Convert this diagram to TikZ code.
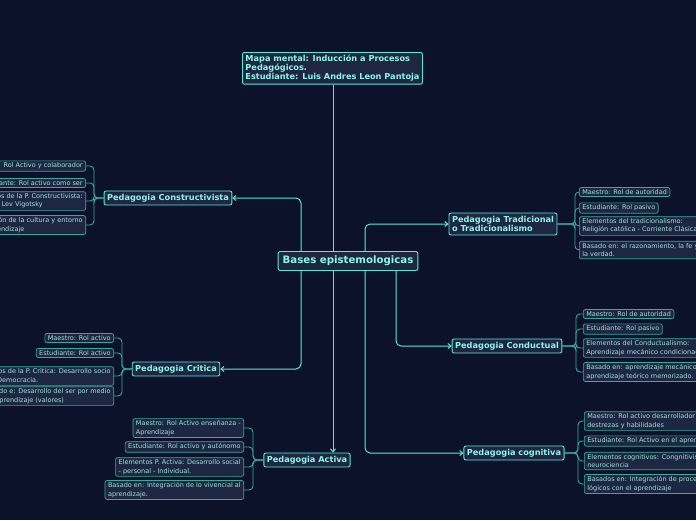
\documentclass[tikz,border=0pt]{standalone}
\usepackage{fontspec}
\setmainfont{DejaVu Sans}
\usetikzlibrary{arrows.meta}
\definecolor{bg}{HTML}{0B1229}
\definecolor{nf}{HTML}{1E2742}
\definecolor{mb}{HTML}{5EE8D8}
\definecolor{lb}{HTML}{3AA89E}
\definecolor{lt}{HTML}{9FE3DA}
\definecolor{mt}{HTML}{8FF5E8}
\tikzset{
 mainbox/.style={draw=mb,fill=nf,rounded corners=2pt,line width=0.9pt,text=mt,font=\fontsize{8.2}{9.6}\selectfont\bfseries,inner sep=3pt,align=left},
 leafbox/.style={draw=lb,fill=nf,rounded corners=2pt,line width=0.7pt,text=lt,font=\fontsize{6.5}{8.4}\selectfont,inner xsep=3pt,inner ysep=2pt,align=left},
 con/.style={draw=mb,line width=1pt,rounded corners=5pt},
 arr/.style={con,-{Straight Barb[length=3pt,width=5pt]}},
 br/.style={draw=lb,line width=0.9pt,rounded corners=4pt}
}
\begin{document}
\begin{tikzpicture}[x=1pt,y=-1pt]
\fill[bg] (0,0) rectangle (696,520);
\clip (0,0) rectangle (696,520);
\useasboundingbox (0,0) rectangle (696,520);
% main
\node[mainbox,anchor=north west,font=\fontsize{8.2}{9.2}\selectfont\bfseries,inner ysep=2.5pt] (title) at (242,52) {Mapa mental: Inducción a Procesos\\Pedagógicos.\\Estudiante: Luis Andres Leon Pantoja};
\node[mainbox,font=\fontsize{10.2}{12}\selectfont\bfseries,inner sep=4.5pt] (root) at (348,261) {Bases epistemologicas};
\node[mainbox] (cons) at (168,198) {Pedagogia Constructivista};
\node[mainbox] (crit) at (176,369) {Pedagogia Critica};
\node[mainbox] (act) at (307,460) {Pedagogia Activa};
\node[mainbox] (trad) at (503,224) {Pedagogia Tradicional\\o Tradicionalismo};
\node[mainbox] (cond) at (507,346) {Pedagogia Conductual};
\node[mainbox] (cog) at (514,453) {Pedagogia cognitiva};
% connectors
\draw[con] (title.south -| 333,0) -- (root.north -| 333,0);
\draw[arr] (root.south -| 333,0) -- (act.north -| 333,0);
\draw[arr] (root.north -| 301,0) |- (cons.east);
\draw[arr] (root.south -| 301,0) |- (crit.east);
\draw[arr] (root.north -| 365,0) |- (trad.west);
\draw[arr] (root.south -| 396,0) |- (cond.west);
\draw[arr] (root.south -| 365,0) |- (cog.west);
% leaves right
\node[leafbox,anchor=west] (t1) at (579,192) {Maestro: Rol de autoridad};
\node[leafbox,anchor=west] (t2) at (579,208) {Estudiante: Rol pasivo};
\node[leafbox,anchor=west] (t3) at (579,226) {Elementos del tradicionalismo:\\Religión católica - Corriente Clásica};
\node[leafbox,anchor=west] (t4) at (579,250) {Basado en: el razonamiento, la fe y\\la verdad.};
\node[leafbox,anchor=west] (d1) at (583,314) {Maestro: Rol de autoridad};
\node[leafbox,anchor=west] (d2) at (583,329) {Estudiante: Rol pasivo};
\node[leafbox,anchor=west] (d3) at (583,348) {Elementos del Conductualismo:\\Aprendizaje mecánico condicionado};
\node[leafbox,anchor=west] (d4) at (583,372) {Basado en: aprendizaje mecánico y\\aprendizaje teórico memorizado.};
\node[leafbox,anchor=west] (g1) at (584,421) {Maestro: Rol activo desarrollador de\\destrezas y habilidades};
\node[leafbox,anchor=west] (g2) at (584,441) {Estudiante: Rol Activo en el aprendizaje};
\node[leafbox,anchor=west] (g3) at (584,461) {Elementos cognitivos: Congnitivismo y\\neurociencia};
\node[leafbox,anchor=west] (g4) at (584,484) {Basados en: Integración de procesos\\lógicos con el aprendizaje};
% leaves left
\node[leafbox,anchor=east] (c1) at (86,166) {Maestro: Rol Activo y colaborador};
\node[leafbox,anchor=east] (c2) at (86,183) {Estudiante: Rol activo como ser};
\node[leafbox,anchor=east] (c3) at (86,201) {Elementos de la P. Constructivista:\\Teoría de Lev Vigotsky};
\node[leafbox,anchor=east] (c4) at (86,225) {Basado en: Integración de la cultura y entorno\\en el proceso de aprendizaje};
\node[leafbox,anchor=east] (r1) at (114,338) {Maestro: Rol activo};
\node[leafbox,anchor=east] (r2) at (114,353) {Estudiante: Rol activo};
\node[leafbox,anchor=east] (r3) at (114,376) {Elementos de la P. Critica: Desarrollo socio\\político Democracia.};
\node[leafbox,anchor=east] (r4) at (114,396) {Basado e: Desarrollo del ser por medio\\del aprendizaje (valores)};
\node[leafbox,anchor=east] (a1) at (244,428) {Maestro: Rol Activo enseñanza -\\Aprendizaje};
\node[leafbox,anchor=east] (a2) at (244,447) {Estudiante: Rol activo y autónomo};
\node[leafbox,anchor=east] (a3) at (244,467) {Elementos P. Activa: Desarrollo social\\- personal - Individual.};
\node[leafbox,anchor=east] (a4) at (244,490) {Basado en: Integración de lo vivencial al\\aprendizaje.};
% brackets
\foreach \l in {t1,t2,t3,t4} \draw[br] (trad.east) -- (575,224) |- (\l.west);
\foreach \l in {d1,d2,d3,d4} \draw[br] (cond.east) -- (576,346) |- (\l.west);
\foreach \l in {g1,g2,g3,g4} \draw[br] (cog.east) -- (578,453) |- (\l.west);
\foreach \l in {c1,c2,c3,c4} \draw[br] (cons.west) -- (94,198) |- (\l.east);
\foreach \l in {r1,r2,r3,r4} \draw[br] (crit.west) -- (122,369) |- (\l.east);
\foreach \l in {a1,a2,a3,a4} \draw[br] (act.west) -- (253,460) |- (\l.east);
\end{tikzpicture}
\end{document}
